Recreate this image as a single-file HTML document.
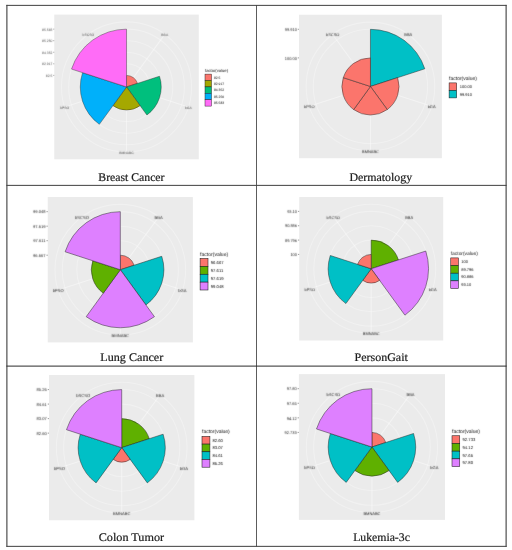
<!DOCTYPE html>
<html lang="en"><head><meta charset="utf-8"><title>Polar bar charts</title>
<style>
html,body{margin:0;padding:0;background:#fff;}
body{width:512px;height:550px;overflow:hidden;}
svg{display:block;text-rendering:geometricPrecision;font-family:"Liberation Sans","DejaVu Sans",sans-serif;}
</style></head><body>
<svg width="512" height="550" viewBox="0 0 512 550">
<defs><filter id="sb" x="-5%" y="-5%" width="110%" height="110%"><feConvolveMatrix order="3" kernelMatrix="0.015 0.06 0.015 0.06 0.7 0.06 0.015 0.06 0.015" divisor="1" edgeMode="none"/></filter><filter id="sa" x="-5%" y="-5%" width="110%" height="110%"><feConvolveMatrix order="3" kernelMatrix="0.02 0.09 0.02 0.06 0.62 0.06 0.02 0.09 0.02" divisor="1" edgeMode="none"/></filter></defs>
<rect width="512" height="550" fill="#fff"/>
<g class="panel">
<rect x="54.25" y="14.6" width="144.55" height="144.7" fill="#EBEBEB"/>
<g stroke="#fff" stroke-width="1.1" fill="none">
<line x1="126.53" y1="86.95" x2="164.76" y2="34.33" stroke-opacity="0.42"/>
<line x1="126.53" y1="86.95" x2="188.39" y2="107.05" stroke-opacity="0.42"/>
<line x1="126.53" y1="86.95" x2="126.53" y2="152" stroke-opacity="0.42"/>
<line x1="126.53" y1="86.95" x2="64.66" y2="107.05" stroke-opacity="0.42"/>
<line x1="126.53" y1="86.95" x2="88.29" y2="34.33" stroke-opacity="0.42"/>
<circle cx="126.53" cy="86.95" r="11.56" stroke-opacity="0.3"/>
<circle cx="126.53" cy="86.95" r="23.13" stroke-opacity="0.3"/>
<circle cx="126.53" cy="86.95" r="34.69" stroke-opacity="0.3"/>
<circle cx="126.53" cy="86.95" r="46.26" stroke-opacity="0.3"/>
<circle cx="126.53" cy="86.95" r="57.82" stroke-opacity="0.3"/>
<circle cx="126.53" cy="86.95" r="65.05" stroke-opacity="0.3"/>
</g>
<g stroke="#262626" stroke-width="0.41" stroke-linejoin="round">
<path d="M126.53 86.95L126.53 75.39A11.56 11.56 0 0 1 137.52 83.38Z" fill="#FB756C"/>
<path d="M126.53 86.95L159.52 76.23A34.69 34.69 0 0 1 146.92 115.02Z" fill="#00BF7D"/>
<path d="M126.53 86.95L140.12 105.66A23.13 23.13 0 0 1 112.93 105.66Z" fill="#A5A800"/>
<path d="M126.53 86.95L99.34 124.37A46.26 46.26 0 0 1 82.53 72.66Z" fill="#00B0FA"/>
<path d="M126.53 86.95L71.53 69.08A57.82 57.82 0 0 1 126.52 29.13Z" fill="#FF6CF7"/>
</g>
<g font-size="3.4" fill="#484848" text-anchor="middle" filter="url(#sa)">
<text x="164.76" y="36.15">BBA</text>
<text x="188.39" y="108.87">bGA</text>
<text x="126.53" y="153.82">BMNABC</text>
<text x="64.66" y="108.87">bPSO</text>
<text x="88.29" y="36.15">bSCSO</text>
</g>
<g font-size="3.4" fill="#484848" text-anchor="end" filter="url(#sa)">
<text x="52.42" y="76.86">82.5</text>
<text x="52.42" y="65.3">82.917</text>
<text x="52.42" y="53.73">84.352</text>
<text x="52.42" y="42.17">85.250</text>
<text x="52.42" y="30.6">85.583</text>
</g>
<g stroke="#333" stroke-width="0.4">
<line x1="53.23" y1="75.39" x2="54.25" y2="75.39"/>
<line x1="53.23" y1="63.82" x2="54.25" y2="63.82"/>
<line x1="53.23" y1="52.26" x2="54.25" y2="52.26"/>
<line x1="53.23" y1="40.69" x2="54.25" y2="40.69"/>
<line x1="53.23" y1="29.13" x2="54.25" y2="29.13"/>
</g>
<text x="205" y="71.81" font-size="4.15" fill="#111" filter="url(#sb)">factor(value)</text>
<g stroke="#1a1a1a" stroke-width="0.44">
<rect x="205" y="74.1" width="6.5" height="6.4" fill="#FB756C"/>
<rect x="205" y="80.5" width="6.5" height="6.4" fill="#A5A800"/>
<rect x="205" y="86.9" width="6.5" height="6.4" fill="#00BF7D"/>
<rect x="205" y="93.3" width="6.5" height="6.4" fill="#00B0FA"/>
<rect x="205" y="99.7" width="6.5" height="6.4" fill="#FF6CF7"/>
</g>
<g font-size="3.35" fill="#000" filter="url(#sb)">
<text x="213.9" y="78.51">82.5</text>
<text x="213.9" y="84.91">82.917</text>
<text x="213.9" y="91.31">84.352</text>
<text x="213.9" y="97.71">85.250</text>
<text x="213.9" y="104.11">85.583</text>
</g>
</g>
<g class="panel">
<rect x="299" y="14.75" width="142.9" height="143.45" fill="#EBEBEB"/>
<g stroke="#fff" stroke-width="1.1" fill="none">
<line x1="370.45" y1="86.47" x2="408.25" y2="34.45" stroke-opacity="0.42"/>
<line x1="370.45" y1="86.47" x2="431.61" y2="106.35" stroke-opacity="0.42"/>
<line x1="370.45" y1="86.47" x2="370.45" y2="150.78" stroke-opacity="0.42"/>
<line x1="370.45" y1="86.47" x2="309.29" y2="106.35" stroke-opacity="0.42"/>
<line x1="370.45" y1="86.47" x2="332.65" y2="34.45" stroke-opacity="0.42"/>
<circle cx="370.45" cy="86.47" r="28.58" stroke-opacity="0.3"/>
<circle cx="370.45" cy="86.47" r="57.16" stroke-opacity="0.3"/>
<circle cx="370.45" cy="86.47" r="64.3" stroke-opacity="0.3"/>
</g>
<g stroke="#262626" stroke-width="0.48" stroke-linejoin="round">
<path d="M370.45 86.47L370.45 29.31A57.16 57.16 0 0 1 424.81 68.81Z" fill="#00C0C6"/>
<path d="M370.45 86.47L397.63 77.64A28.58 28.58 0 0 1 387.25 109.6Z" fill="#FB756C"/>
<path d="M370.45 86.47L387.25 109.6A28.58 28.58 0 0 1 353.65 109.6Z" fill="#FB756C"/>
<path d="M370.45 86.47L353.65 109.6A28.58 28.58 0 0 1 343.27 77.64Z" fill="#FB756C"/>
<path d="M370.45 86.47L343.27 77.64A28.58 28.58 0 0 1 370.45 57.89Z" fill="#FB756C"/>
</g>
<g font-size="3.95" fill="#222" text-anchor="middle" filter="url(#sa)">
<text x="408.25" y="36.47">BBA</text>
<text x="431.61" y="108.37">bGA</text>
<text x="370.45" y="152.8">BMNABC</text>
<text x="309.29" y="108.37">bPSO</text>
<text x="332.65" y="36.47">bSCSO</text>
</g>
<g font-size="3.95" fill="#222" text-anchor="end" filter="url(#sa)">
<text x="296.85" y="59.57">100.00</text>
<text x="296.85" y="30.99">99.910</text>
</g>
<g stroke="#333" stroke-width="0.46">
<line x1="297.81" y1="57.89" x2="299" y2="57.89"/>
<line x1="297.81" y1="29.31" x2="299" y2="29.31"/>
</g>
<text x="449.1" y="79.95" font-size="5" fill="#111" filter="url(#sb)">factor(value)</text>
<g stroke="#1a1a1a" stroke-width="0.52">
<rect x="449.1" y="82.9" width="7.6" height="7.5" fill="#FB756C"/>
<rect x="449.1" y="90.4" width="7.6" height="7.5" fill="#00C0C6"/>
</g>
<g font-size="4" fill="#000" filter="url(#sb)">
<text x="459.75" y="88.09">100.00</text>
<text x="459.75" y="95.59">99.910</text>
</g>
</g>
<g class="panel">
<rect x="47.75" y="197.05" width="145.15" height="145.35" fill="#EBEBEB"/>
<g stroke="#fff" stroke-width="1.1" fill="none">
<line x1="120.33" y1="269.73" x2="158.72" y2="216.88" stroke-opacity="0.42"/>
<line x1="120.33" y1="269.73" x2="182.45" y2="289.91" stroke-opacity="0.42"/>
<line x1="120.33" y1="269.73" x2="120.33" y2="335.04" stroke-opacity="0.42"/>
<line x1="120.33" y1="269.73" x2="58.2" y2="289.91" stroke-opacity="0.42"/>
<line x1="120.33" y1="269.73" x2="81.93" y2="216.88" stroke-opacity="0.42"/>
<circle cx="120.33" cy="269.73" r="14.52" stroke-opacity="0.3"/>
<circle cx="120.33" cy="269.73" r="29.03" stroke-opacity="0.3"/>
<circle cx="120.33" cy="269.73" r="43.55" stroke-opacity="0.3"/>
<circle cx="120.33" cy="269.73" r="58.06" stroke-opacity="0.3"/>
<circle cx="120.33" cy="269.73" r="65.32" stroke-opacity="0.3"/>
</g>
<g stroke="#262626" stroke-width="0.5" stroke-linejoin="round">
<path d="M120.33 269.73L120.33 255.21A14.52 14.52 0 0 1 134.13 265.24Z" fill="#FB756C"/>
<path d="M120.33 269.73L161.74 256.27A43.55 43.55 0 0 1 145.92 304.95Z" fill="#00C0C6"/>
<path d="M120.33 269.73L154.45 316.7A58.06 58.06 0 0 1 86.2 316.7Z" fill="#DE80FF"/>
<path d="M120.33 269.73L103.26 293.21A29.03 29.03 0 0 1 92.72 260.75Z" fill="#5FB000"/>
<path d="M120.33 269.73L65.11 251.78A58.06 58.06 0 0 1 120.32 211.67Z" fill="#DE80FF"/>
</g>
<g font-size="4.1" fill="#222" text-anchor="middle" filter="url(#sa)">
<text x="158.72" y="218.96">BBA</text>
<text x="182.45" y="291.99">bGA</text>
<text x="120.33" y="337.12">BMNABC</text>
<text x="58.2" y="291.99">bPSO</text>
<text x="81.93" y="218.96">bSCSO</text>
</g>
<g font-size="4.1" fill="#222" text-anchor="end" filter="url(#sa)">
<text x="45.49" y="256.94">96.667</text>
<text x="45.49" y="242.42">97.611</text>
<text x="45.49" y="227.91">97.619</text>
<text x="45.49" y="213.39">99.048</text>
</g>
<g stroke="#333" stroke-width="0.49">
<line x1="46.5" y1="255.21" x2="47.75" y2="255.21"/>
<line x1="46.5" y1="240.7" x2="47.75" y2="240.7"/>
<line x1="46.5" y1="226.18" x2="47.75" y2="226.18"/>
<line x1="46.5" y1="211.67" x2="47.75" y2="211.67"/>
</g>
<text x="200.1" y="255.62" font-size="5.05" fill="#111" filter="url(#sb)">factor(value)</text>
<g stroke="#1a1a1a" stroke-width="0.55">
<rect x="200.1" y="258.5" width="7.9" height="7.88" fill="#FB756C"/>
<rect x="200.1" y="266.38" width="7.9" height="7.88" fill="#5FB000"/>
<rect x="200.1" y="274.25" width="7.9" height="7.88" fill="#00C0C6"/>
<rect x="200.1" y="282.12" width="7.9" height="7.88" fill="#DE80FF"/>
</g>
<g font-size="4.2" fill="#000" filter="url(#sb)">
<text x="210.75" y="263.95">96.667</text>
<text x="210.75" y="271.82">97.611</text>
<text x="210.75" y="279.7">97.619</text>
<text x="210.75" y="287.57">99.048</text>
</g>
</g>
<g class="panel">
<rect x="299.2" y="197.05" width="144" height="143.45" fill="#EBEBEB"/>
<g stroke="#fff" stroke-width="1.1" fill="none">
<line x1="371.2" y1="268.77" x2="409.14" y2="216.55" stroke-opacity="0.42"/>
<line x1="371.2" y1="268.77" x2="432.59" y2="288.72" stroke-opacity="0.42"/>
<line x1="371.2" y1="268.77" x2="371.2" y2="333.33" stroke-opacity="0.42"/>
<line x1="371.2" y1="268.77" x2="309.81" y2="288.72" stroke-opacity="0.42"/>
<line x1="371.2" y1="268.77" x2="333.26" y2="216.55" stroke-opacity="0.42"/>
<circle cx="371.2" cy="268.77" r="14.34" stroke-opacity="0.3"/>
<circle cx="371.2" cy="268.77" r="28.69" stroke-opacity="0.3"/>
<circle cx="371.2" cy="268.77" r="43.03" stroke-opacity="0.3"/>
<circle cx="371.2" cy="268.77" r="57.38" stroke-opacity="0.3"/>
<circle cx="371.2" cy="268.77" r="64.55" stroke-opacity="0.3"/>
</g>
<g stroke="#262626" stroke-width="0.49" stroke-linejoin="round">
<path d="M371.2 268.77L371.2 240.08A28.69 28.69 0 0 1 398.49 259.91Z" fill="#5FB000"/>
<path d="M371.2 268.77L425.77 251.04A57.38 57.38 0 0 1 404.93 315.2Z" fill="#DE80FF"/>
<path d="M371.2 268.77L379.63 280.38A14.34 14.34 0 0 1 362.77 280.38Z" fill="#FB756C"/>
<path d="M371.2 268.77L345.9 303.59A43.03 43.03 0 0 1 330.27 255.48Z" fill="#00C0C6"/>
<path d="M371.2 268.77L357.56 264.34A14.34 14.34 0 0 1 371.2 254.43Z" fill="#FB756C"/>
</g>
<g font-size="3.95" fill="#222" text-anchor="middle" filter="url(#sa)">
<text x="409.14" y="218.57">BBA</text>
<text x="432.59" y="290.74">bGA</text>
<text x="371.2" y="335.35">BMNABC</text>
<text x="309.81" y="290.74">bPSO</text>
<text x="333.26" y="218.57">bSCSO</text>
</g>
<g font-size="3.95" fill="#222" text-anchor="end" filter="url(#sa)">
<text x="297.01" y="256.1">100</text>
<text x="297.01" y="241.76">89.796</text>
<text x="297.01" y="227.41">90.886</text>
<text x="297.01" y="213.07">93.10</text>
</g>
<g stroke="#333" stroke-width="0.47">
<line x1="297.98" y1="254.43" x2="299.2" y2="254.43"/>
<line x1="297.98" y1="240.08" x2="299.2" y2="240.08"/>
<line x1="297.98" y1="225.74" x2="299.2" y2="225.74"/>
<line x1="297.98" y1="211.39" x2="299.2" y2="211.39"/>
</g>
<text x="450.75" y="254.57" font-size="4.9" fill="#111" filter="url(#sb)">factor(value)</text>
<g stroke="#1a1a1a" stroke-width="0.53">
<rect x="450.75" y="257.9" width="7.75" height="7.65" fill="#FB756C"/>
<rect x="450.75" y="265.55" width="7.75" height="7.65" fill="#5FB000"/>
<rect x="450.75" y="273.2" width="7.75" height="7.65" fill="#00C0C6"/>
<rect x="450.75" y="280.85" width="7.75" height="7.65" fill="#DE80FF"/>
</g>
<g font-size="4" fill="#000" filter="url(#sb)">
<text x="461.25" y="263.16">100</text>
<text x="461.25" y="270.81">89.796</text>
<text x="461.25" y="278.46">90.886</text>
<text x="461.25" y="286.11">93.10</text>
</g>
</g>
<g class="panel">
<rect x="49" y="375.05" width="145.4" height="145.2" fill="#EBEBEB"/>
<g stroke="#fff" stroke-width="1.1" fill="none">
<line x1="121.7" y1="447.65" x2="160.11" y2="394.79" stroke-opacity="0.42"/>
<line x1="121.7" y1="447.65" x2="183.84" y2="467.84" stroke-opacity="0.42"/>
<line x1="121.7" y1="447.65" x2="121.7" y2="512.99" stroke-opacity="0.42"/>
<line x1="121.7" y1="447.65" x2="59.56" y2="467.84" stroke-opacity="0.42"/>
<line x1="121.7" y1="447.65" x2="83.29" y2="394.79" stroke-opacity="0.42"/>
<circle cx="121.7" cy="447.65" r="14.52" stroke-opacity="0.3"/>
<circle cx="121.7" cy="447.65" r="29.04" stroke-opacity="0.3"/>
<circle cx="121.7" cy="447.65" r="43.56" stroke-opacity="0.3"/>
<circle cx="121.7" cy="447.65" r="58.08" stroke-opacity="0.3"/>
<circle cx="121.7" cy="447.65" r="65.34" stroke-opacity="0.3"/>
</g>
<g stroke="#262626" stroke-width="0.49" stroke-linejoin="round">
<path d="M121.7 447.65L121.7 418.61A29.04 29.04 0 0 1 149.32 438.68Z" fill="#5FB000"/>
<path d="M121.7 447.65L163.13 434.19A43.56 43.56 0 0 1 147.3 482.89Z" fill="#00C0C6"/>
<path d="M121.7 447.65L130.23 459.4A14.52 14.52 0 0 1 113.17 459.4Z" fill="#FB756C"/>
<path d="M121.7 447.65L96.1 482.89A43.56 43.56 0 0 1 80.27 434.19Z" fill="#00C0C6"/>
<path d="M121.7 447.65L66.46 429.7A58.08 58.08 0 0 1 121.7 389.57Z" fill="#DE80FF"/>
</g>
<g font-size="4.1" fill="#222" text-anchor="middle" filter="url(#sa)">
<text x="160.11" y="396.86">BBA</text>
<text x="183.84" y="469.92">bGA</text>
<text x="121.7" y="515.07">BMNABC</text>
<text x="59.56" y="469.92">bPSO</text>
<text x="83.29" y="396.86">bSCSO</text>
</g>
<g font-size="4.1" fill="#222" text-anchor="end" filter="url(#sa)">
<text x="46.79" y="434.86">82.60</text>
<text x="46.79" y="420.34">83.07</text>
<text x="46.79" y="405.82">84.61</text>
<text x="46.79" y="391.3">85.26</text>
</g>
<g stroke="#333" stroke-width="0.48">
<line x1="47.77" y1="433.13" x2="49" y2="433.13"/>
<line x1="47.77" y1="418.61" x2="49" y2="418.61"/>
<line x1="47.77" y1="404.09" x2="49" y2="404.09"/>
<line x1="47.77" y1="389.57" x2="49" y2="389.57"/>
</g>
<text x="202" y="433.3" font-size="5" fill="#111" filter="url(#sb)">factor(value)</text>
<g stroke="#1a1a1a" stroke-width="0.54">
<rect x="202" y="436.4" width="7.9" height="7.7" fill="#FB756C"/>
<rect x="202" y="444.1" width="7.9" height="7.7" fill="#5FB000"/>
<rect x="202" y="451.8" width="7.9" height="7.7" fill="#00C0C6"/>
<rect x="202" y="459.5" width="7.9" height="7.7" fill="#DE80FF"/>
</g>
<g font-size="4.2" fill="#000" filter="url(#sb)">
<text x="212.4" y="441.76">82.60</text>
<text x="212.4" y="449.46">83.07</text>
<text x="212.4" y="457.16">84.61</text>
<text x="212.4" y="464.86">85.26</text>
</g>
</g>
<g class="panel">
<rect x="298.9" y="374.1" width="146.1" height="145.8" fill="#EBEBEB"/>
<g stroke="#fff" stroke-width="1.1" fill="none">
<line x1="371.95" y1="447" x2="410.51" y2="393.92" stroke-opacity="0.42"/>
<line x1="371.95" y1="447" x2="434.35" y2="467.27" stroke-opacity="0.42"/>
<line x1="371.95" y1="447" x2="371.95" y2="512.61" stroke-opacity="0.42"/>
<line x1="371.95" y1="447" x2="309.55" y2="467.27" stroke-opacity="0.42"/>
<line x1="371.95" y1="447" x2="333.39" y2="393.92" stroke-opacity="0.42"/>
<circle cx="371.95" cy="447" r="14.58" stroke-opacity="0.3"/>
<circle cx="371.95" cy="447" r="29.16" stroke-opacity="0.3"/>
<circle cx="371.95" cy="447" r="43.74" stroke-opacity="0.3"/>
<circle cx="371.95" cy="447" r="58.32" stroke-opacity="0.3"/>
<circle cx="371.95" cy="447" r="65.61" stroke-opacity="0.3"/>
</g>
<g stroke="#262626" stroke-width="0.49" stroke-linejoin="round">
<path d="M371.95 447L371.95 432.42A14.58 14.58 0 0 1 385.82 442.49Z" fill="#FB756C"/>
<path d="M371.95 447L413.55 433.48A43.74 43.74 0 0 1 397.66 482.39Z" fill="#00C0C6"/>
<path d="M371.95 447L389.09 470.59A29.16 29.16 0 0 1 354.81 470.59Z" fill="#5FB000"/>
<path d="M371.95 447L346.24 482.39A43.74 43.74 0 0 1 330.35 433.48Z" fill="#00C0C6"/>
<path d="M371.95 447L316.48 428.98A58.32 58.32 0 0 1 371.95 388.68Z" fill="#DE80FF"/>
</g>
<g font-size="4" fill="#222" text-anchor="middle" filter="url(#sa)">
<text x="410.51" y="395.96">BBA</text>
<text x="434.35" y="469.31">bGA</text>
<text x="371.95" y="514.65">BMNABC</text>
<text x="309.55" y="469.31">bPSO</text>
<text x="333.39" y="395.96">bSCSO</text>
</g>
<g font-size="4" fill="#222" text-anchor="end" filter="url(#sa)">
<text x="296.69" y="434.11">92.733</text>
<text x="296.69" y="419.53">94.12</text>
<text x="296.69" y="404.95">97.65</text>
<text x="296.69" y="390.37">97.80</text>
</g>
<g stroke="#333" stroke-width="0.48">
<line x1="297.67" y1="432.42" x2="298.9" y2="432.42"/>
<line x1="297.67" y1="417.84" x2="298.9" y2="417.84"/>
<line x1="297.67" y1="403.26" x2="298.9" y2="403.26"/>
<line x1="297.67" y1="388.68" x2="298.9" y2="388.68"/>
</g>
<text x="452" y="432.71" font-size="5.04" fill="#111" filter="url(#sb)">factor(value)</text>
<g stroke="#1a1a1a" stroke-width="0.54">
<rect x="452" y="435.75" width="7.75" height="7.7" fill="#FB756C"/>
<rect x="452" y="443.45" width="7.75" height="7.7" fill="#5FB000"/>
<rect x="452" y="451.15" width="7.75" height="7.7" fill="#00C0C6"/>
<rect x="452" y="458.85" width="7.75" height="7.7" fill="#DE80FF"/>
</g>
<g font-size="4.2" fill="#000" filter="url(#sb)">
<text x="462.5" y="441.11">92.733</text>
<text x="462.5" y="448.81">94.12</text>
<text x="462.5" y="456.51">97.65</text>
<text x="462.5" y="464.21">97.80</text>
</g>
</g>
<g>
<rect x="6.4" y="4.87" width="1" height="541.98" fill="#2c2c2c"/>
<rect x="505.6" y="4.87" width="1" height="541.98" fill="#2c2c2c"/>
<rect x="256" y="5" width="1" height="541.5" fill="#5c5c5c"/>
<rect x="6.4" y="4.87" width="500.2" height="1" fill="#404040"/>
<rect x="6.4" y="184.87" width="500.2" height="1" fill="#404040"/>
<rect x="6.4" y="365.6" width="500.2" height="1" fill="#2c2c2c"/>
<rect x="6.4" y="545.85" width="500.2" height="1" fill="#404040"/>
</g>
<g font-family="'Liberation Serif','DejaVu Serif',serif" font-size="11.6" fill="#1a1a1a" stroke="#1a1a1a" stroke-width="0.2" text-anchor="middle">
<text x="131.4" y="180.6" textLength="66.2" lengthAdjust="spacingAndGlyphs">Breast Cancer</text>
<text x="380.8" y="180.6" textLength="62.7" lengthAdjust="spacingAndGlyphs">Dermatology</text>
<text x="131.8" y="360.6" textLength="62.9" lengthAdjust="spacingAndGlyphs">Lung Cancer</text>
<text x="381.2" y="360.6" textLength="53.3" lengthAdjust="spacingAndGlyphs">PersonGait</text>
<text x="131.4" y="541.2" textLength="65.3" lengthAdjust="spacingAndGlyphs">Colon Tumor</text>
<text x="381.5" y="541.2" textLength="56.7" lengthAdjust="spacingAndGlyphs">Lukemia-3c</text>
</g>
</svg>
</body></html>
